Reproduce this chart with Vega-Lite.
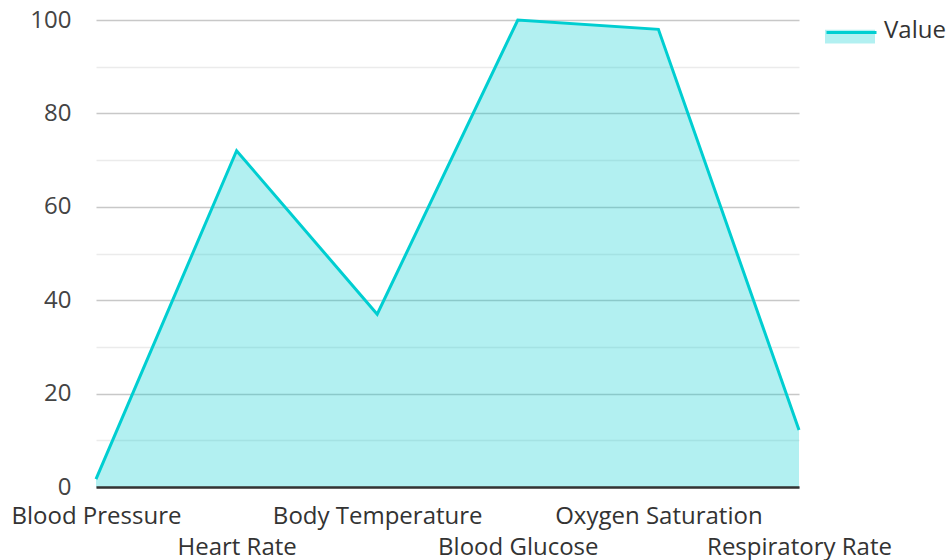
{
  "$schema": "https://vega.github.io/schema/vega-lite/v6.json",
  "width": 703,
  "height": 467,
  "autosize": "none",
  "padding": {"left": 96, "top": 20, "right": 150, "bottom": 73},
  "config": {
    "view": {"stroke": null},
    "font": "Open Sans"
  },
  "data": {
    "values": [
      {"metric": "Blood Pressure", "value": 1.7, "series": "Value"},
      {"metric": "Heart Rate", "value": 72, "series": "Value"},
      {"metric": "Body Temperature", "value": 37, "series": "Value"},
      {"metric": "Blood Glucose", "value": 100, "series": "Value"},
      {"metric": "Oxygen Saturation", "value": 98, "series": "Value"},
      {"metric": "Respiratory Rate", "value": 12.2, "series": "Value"}
    ]
  },
  "encoding": {
    "x": {
      "field": "metric",
      "type": "ordinal",
      "sort": null,
      "scale": {"type": "point", "padding": 0},
      "axis": {
        "title": null,
        "labelAngle": 0,
        "labelFontSize": 24,
        "labelColor": "#333",
        "labelLineHeight": 31,
        "labelBaseline": "middle",
        "labelPadding": 29,
        "labelLimit": 0,
        "labelOverlap": false,
        "ticks": false,
        "tickSize": 0,
        "domainColor": "#333",
        "domainWidth": 2.5,
        "zindex": 1,
        "grid": false,
        "labelExpr": "indexof(['Heart Rate','Blood Glucose','Respiratory Rate'], datum.value) >= 0 ? ['', datum.label] : [datum.label, '']"
      }
    },
    "y": {
      "field": "value",
      "type": "quantitative",
      "scale": {"domain": [0, 100], "nice": false},
      "axis": {
        "title": null,
        "values": [0, 10, 20, 30, 40, 50, 60, 70, 80, 90, 100],
        "labelExpr": "datum.value % 20 === 0 ? datum.label : ''",
        "labelFontSize": 24,
        "labelColor": "#444",
        "labelPadding": 25,
        "ticks": false,
        "tickSize": 0,
        "domain": false,
        "gridColor": {"condition": {"test": "datum.value % 20 === 0", "value": "#c8c8c8"}, "value": "#ebebeb"},
        "gridWidth": 1.5
      }
    }
  },
  "layer": [
    {
      "mark": {"type": "area", "fillOpacity": 0.3, "interpolate": "linear"},
      "encoding": {
        "fill": {
          "field": "series",
          "type": "nominal",
          "scale": {"range": ["#00CED1"]},
          "legend": {
            "title": null,
            "orient": "none",
            "legendX": 729,
            "legendY": -14,
            "symbolType": "M-1,-0.05H1V0.5H-1Z",
            "symbolSize": 2500,
            "symbolOpacity": 0.3,
            "symbolStrokeWidth": 0,
            "labelFontSize": 24,
            "labelColor": "#333",
            "labelOffset": 9
          }
        }
      }
    },
    {
      "mark": {"type": "line", "strokeWidth": 3, "interpolate": "linear"},
      "encoding": {
        "stroke": {
          "field": "series",
          "type": "nominal",
          "scale": {"range": ["#00CED1"]},
          "legend": {
            "title": null,
            "orient": "none",
            "legendX": 729,
            "legendY": -14,
            "symbolType": "M-1,0H1",
            "symbolSize": 2500,
            "symbolStrokeWidth": 3,
            "labelFontSize": 24,
            "labelColor": "transparent",
            "labelOffset": 9
          }
        }
      }
    }
  ]
}
